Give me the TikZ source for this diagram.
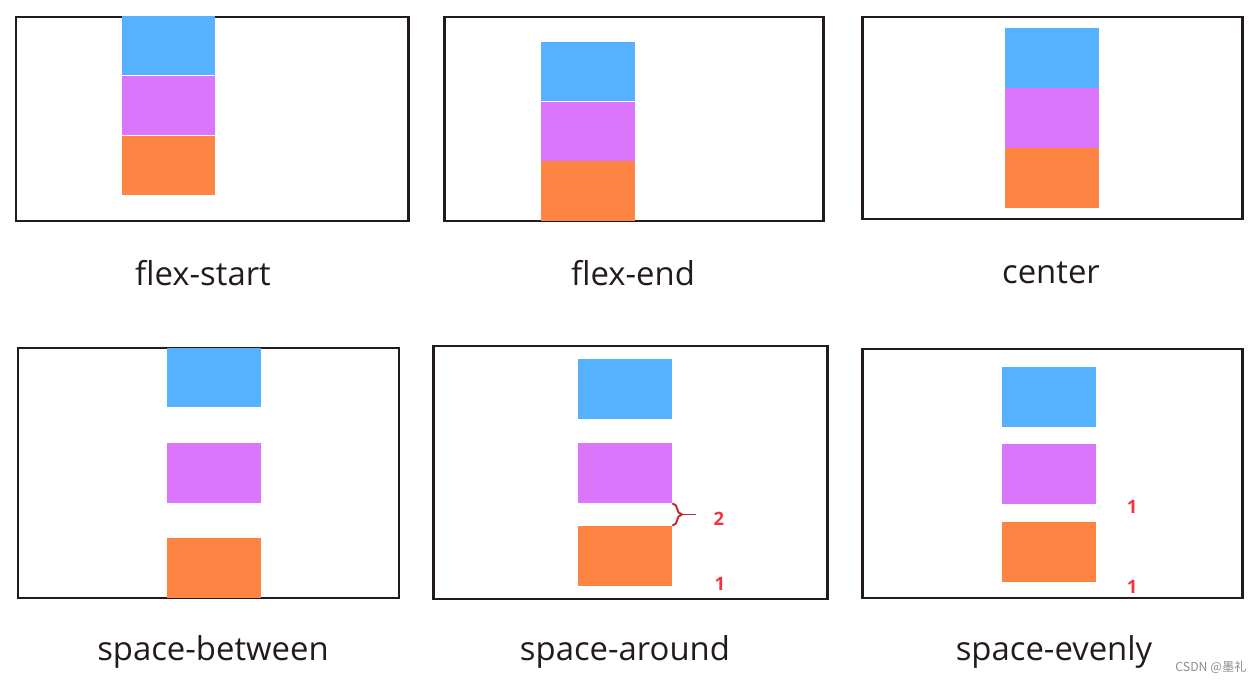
\documentclass[tikz,border=0pt]{standalone}
\usepackage{fontspec}
\setmainfont{Open Sans}
\newfontfamily\cjk{Noto Sans CJK SC}
\usepackage{tikz}
\usetikzlibrary{decorations.pathreplacing}

\definecolor{bblue}{HTML}{56B1FE}
\definecolor{bpurple}{HTML}{DB75FC}
\definecolor{borange}{HTML}{FE8443}
\definecolor{frame}{HTML}{231A1F}
\definecolor{mark}{HTML}{F5333F}

\tikzset{
  blk/.style={inner sep=0pt, minimum width=1.88cm, minimum height=1.2cm},
  box/.style={draw=frame, line width=1.7pt},
  caption/.style={font=\fontsize{18.7}{22}\selectfont, text=frame},
  num/.style={font=\fontsize{10.5}{12}\selectfont\bfseries, text=mark}
}

\begin{document}
\begin{tikzpicture}[x=0.02cm, y=-0.02cm]
  \useasboundingbox (0,0) rectangle (1260,682);

  % flex-start
  \draw[box] (16,17) rectangle (408,221);
  \draw (168.5,45.5) node[blk, fill=bblue] (fsa) {};
  \draw (168.5,105.5) node[blk, fill=bpurple] (fsb) {};
  \draw (168.5,165.5) node[blk, fill=borange] (fsc) {};
  \draw (203,273) node[caption] (fs) {flex-start};

  % flex-end
  \draw[box] (444,17) rectangle (823,221);
  \draw (588,71.5) node[blk, fill=bblue] (fea) {};
  \draw (588,131.5) node[blk, fill=bpurple] (feb) {};
  \draw (588,191) node[blk, fill=borange] (fec) {};
  \draw (633,273) node[caption] (fe) {flex-end};

  % center
  \draw[box] (862,17) rectangle (1242,219);
  \draw (1052,58) node[blk, fill=bblue] (cea) {};
  \draw (1052,118) node[blk, fill=bpurple] (ceb) {};
  \draw (1052,178) node[blk, fill=borange] (cec) {};
  \draw (1051,273) node[caption] (ce) {center};

  % space-between
  \draw[box] (18,348) rectangle (399,598);
  \draw (214,377.5) node[blk, fill=bblue] (sba) {};
  \draw (214,473) node[blk, fill=bpurple] (sbb) {};
  \draw (214,568) node[blk, fill=borange] (sbc) {};
  \draw (213,652) node[caption] (sb) {space-between};

  % space-around
  \draw[box] (433,346) rectangle (827,599);
  \draw (625,389) node[blk, fill=bblue] (saa) {};
  \draw (625,473) node[blk, fill=bpurple] (sab) {};
  \draw (625,556) node[blk, fill=borange] (sac) {};
  \draw (625,652) node[caption] (sa) {space-around};
  \draw[mark!80!black, line width=1.1pt, decoration={brace, amplitude=5.5pt}, decorate]
    (sab.south east) -- (sac.north east) coordinate[midway] (gap);
  \draw[mark!80!black, line width=1.1pt] ([xshift=5pt]gap) -- ++(15,0) coordinate (gapend);
  \draw (719,519) node[num] (saq) {2};
  \draw (720,584) node[num] (sar) {1};

  % space-evenly
  \draw[box] (862,349) rectangle (1242,598);
  \draw (1049,397) node[blk, fill=bblue] (sea) {};
  \draw (1049,474) node[blk, fill=bpurple] (seb) {};
  \draw (1049,552) node[blk, fill=borange] (sec) {};
  \draw (1054,652) node[caption] (se) {space-evenly};
  \draw (1132,507) node[num] (seq) {1};
  \draw (1132,587) node[num] (ser) {1};

  \draw (1211,667) node[font=\cjk\fontsize{7}{8}\selectfont, text=black!45] (wm) {CSDN @墨礼};
\end{tikzpicture}
\end{document}
